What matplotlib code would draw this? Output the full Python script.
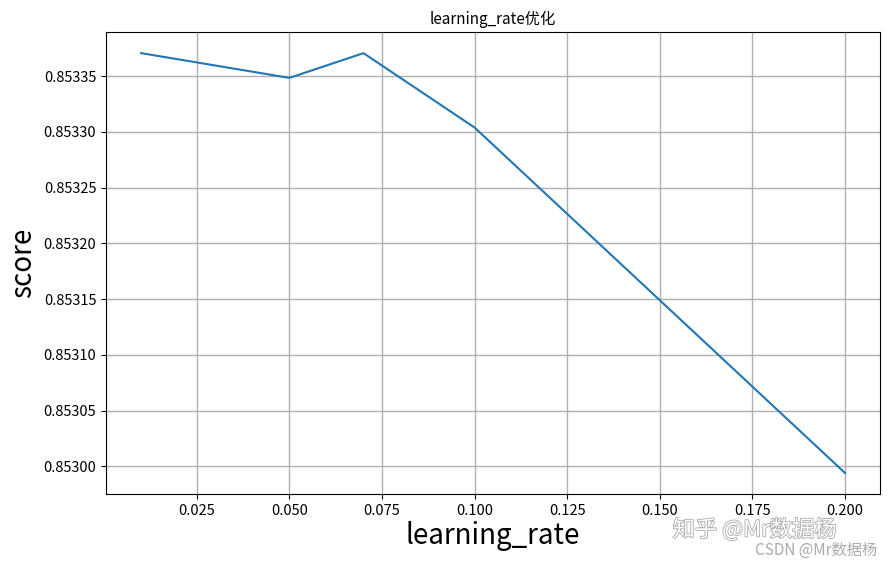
import matplotlib
matplotlib.use("Agg")
import matplotlib.pyplot as plt
import matplotlib.patheffects as pe

plt.rcParams['font.family'] = ['Noto Sans CJK SC', 'DejaVu Sans']
plt.rcParams['axes.unicode_minus'] = False

learning_rate = [0.01, 0.05, 0.07, 0.1, 0.2]
score = [0.8533707, 0.8533485, 0.8533707, 0.8533039, 0.8529939]
x_ticks = [0.025, 0.050, 0.075, 0.100, 0.125, 0.150, 0.175, 0.200]
y_ticks = [0.85300, 0.85305, 0.85310, 0.85315, 0.85320, 0.85325, 0.85330, 0.85335]

fig = plt.figure(figsize=(8.91, 5.64), dpi=100)
ax = fig.add_axes([0.119, 0.124, 0.869, 0.819])
ax.plot(learning_rate, score, color='#1f77b4', linewidth=1.5)
ax.set_xticks(x_ticks)
ax.set_xticklabels([f"{v:.3f}" for v in x_ticks], fontsize=10.5)
ax.set_yticks(y_ticks)
ax.set_yticklabels([f"{v:.5f}" for v in y_ticks], fontsize=10.5)
ax.grid(True, color='#b0b0b0', linewidth=1)
ax.set_title('learning_rate优化', fontsize=11)
ax.set_xlabel('learning_rate', fontsize=20, labelpad=2)
ax.set_ylabel('score', fontsize=20)

wm_effect = [pe.withStroke(linewidth=1.2, foreground='#aaaaaa')]
fig.text(0.755, 0.040, '知乎 @Mr数据杨', fontsize=16, color='white',
         path_effects=wm_effect, ha='left', va='bottom')
fig.text(0.985, 0.010, 'CSDN @Mr数据杨', fontsize=11, color='#aaaaaa',
         ha='right', va='bottom')

fig.savefig('out.png', dpi=100)
